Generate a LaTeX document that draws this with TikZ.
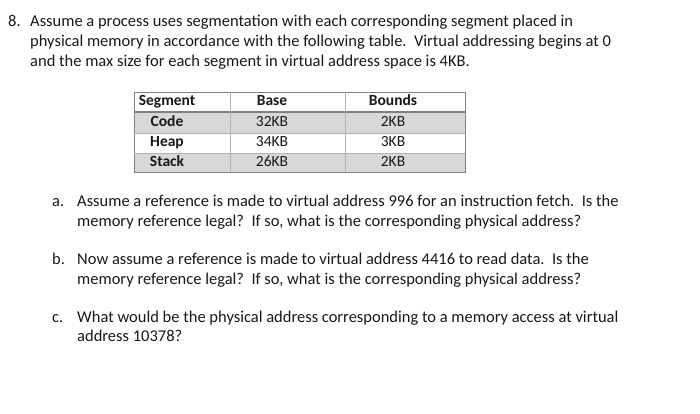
\documentclass[tikz,border=0pt]{standalone}
\usepackage{fontspec}
\setmainfont{Carlito}
\usetikzlibrary{positioning}
\definecolor{rowgray}{RGB}{216,216,216}
\definecolor{ink}{RGB}{25,25,25}
\tikzset{
  txt/.style={anchor=west, inner sep=0pt, text height=12pt, text depth=4pt, text=ink, font=\fontsize{16.5}{18}\selectfont},
  cell/.style={inner sep=0pt, text height=11pt, text depth=4pt, text=ink, font=\fontsize{15.5}{18}\selectfont},
  hcell/.style={cell, font=\fontsize{15.5}{18}\selectfont\bfseries}
}
\begin{document}
\begin{tikzpicture}[x=1pt,y=-1pt]
  \useasboundingbox[fill=white] (0,0) rectangle (700,413);

  % question
  \node (num) [txt] at (8,22) {8.};
  \node (q1) [txt] at (30,22) {Assume a process uses segmentation with each corresponding segment placed in};
  \node (q2) [txt] at (30,42) {physical memory in accordance with the following table.\ \ Virtual addressing begins at 0};
  \node (q3) [txt] at (30,62) {and the max size for each segment in virtual address space is 4KB.};

  % table
  \fill[rowgray] (134,112) rectangle (465,133);
  \fill[rowgray] (134,153) rectangle (465,172);
  \draw[gray, thin] (134,92) rectangle (465,172);
  \draw[gray, line width=1.5pt] (134,112) -- (465,112);
  \draw[gray!60, thin] (134,133) -- (465,133) (134,153) -- (465,153);
  \draw[gray!60, thin] (230,92) -- (230,172) (345,92) -- (345,172);

  \node (hSeg) [hcell] at (167,102) {Segment};
  \node (hBase) [hcell] at (272,102) {Base};
  \node (hBnd) [hcell] at (393,102) {Bounds};
  \node (sCode) [hcell] at (167,123) {Code};
  \node (bCode) [cell] at (272,123) {32KB};
  \node (lCode) [cell] at (393,123) {2KB};
  \node (sHeap) [hcell] at (167,143) {Heap};
  \node (bHeap) [cell] at (272,143) {34KB};
  \node (lHeap) [cell] at (393,143) {3KB};
  \node (sStack) [hcell] at (167,163) {Stack};
  \node (bStack) [cell] at (272,163) {26KB};
  \node (lStack) [cell] at (393,163) {2KB};

  % parts
  \node (pa) [txt] at (52,202) {a.};
  \node (a1) [txt] at (77,202) {Assume a reference is made to virtual address 996 for an instruction fetch.\ \ Is the};
  \node (a2) [txt] at (77,222) {memory reference legal?\ \ If so, what is the corresponding physical address?};
  \node (pb) [txt] at (52,260) {b.};
  \node (b1) [txt] at (77,260) {Now assume a reference is made to virtual address 4416 to read data.\ \ Is the};
  \node (b2) [txt] at (77,280) {memory reference legal?\ \ If so, what is the corresponding physical address?};
  \node (pc) [txt] at (52,318) {c.};
  \node (c1) [txt] at (77,318) {What would be the physical address corresponding to a memory access at virtual};
  \node (c2) [txt] at (77,337) {address 10378?};
\end{tikzpicture}
\end{document}
